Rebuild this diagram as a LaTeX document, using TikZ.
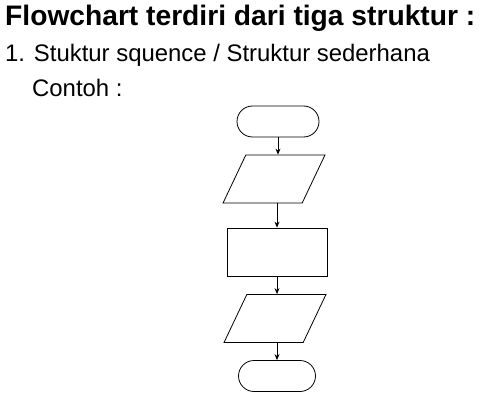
\documentclass[tikz,border=0pt]{standalone}
\usepackage{fontspec}
\setmainfont{Liberation Sans}
\usepackage{tikz}
\usetikzlibrary{shapes.geometric}
\usetikzlibrary{positioning}
\tikzstyle{terminal} = [rectangle, rounded corners=15.5pt, minimum width=82pt, minimum height=31pt, draw=black, line width=0.8pt]
\tikzstyle{io} = [trapezium, trapezium left angle=68, trapezium right angle=112, trapezium stretches=true, minimum width=102pt, minimum height=48pt, draw=black, line width=0.8pt]
\tikzstyle{process} = [rectangle, minimum width=100pt, minimum height=48pt, draw=black, line width=0.8pt]
\tikzstyle{arrow} = [line width=0.8pt,-{Stealth[length=6pt,width=5pt]}]
\tikzstyle{heading} = [anchor=base west, inner sep=0pt, font=\fontsize{28.2}{32}\selectfont\bfseries]
\tikzstyle{bodytext} = [anchor=base west, inner sep=0pt, font=\fontsize{23.9}{28}\selectfont]
\usetikzlibrary{arrows.meta}

\begin{document}
\begin{tikzpicture}[x=1pt, y=-1pt]
        \useasboundingbox (0,0) rectangle (495,409);

        \node (title) [heading] at (5,26) {Flowchart terdiri dari tiga struktur :};
        \node (point) [bodytext] at (5,62) {1. Stuktur squence / Struktur sederhana};
        \node (example) [bodytext] at (32,97) {Contoh :};

        \node (start) [terminal] at (278,121.5) {};
        \node (input) [io] at (274,179) {};
        \node (proc) [process] at (277,252) {};
        \node (output) [io] at (275,318.5) {};
        \node (stop) [terminal, minimum width=77pt] at (277,376) {};

        \draw [arrow] (start.south) -- (start.south |- input.north);
        \draw [arrow] (proc.north |- input.south) -- (proc.north);
        \draw [arrow] (proc.south) -- (proc.south |- output.north);
        \draw [arrow] (stop.north |- output.south) -- (stop.north);

    \end{tikzpicture}
\end{document}
